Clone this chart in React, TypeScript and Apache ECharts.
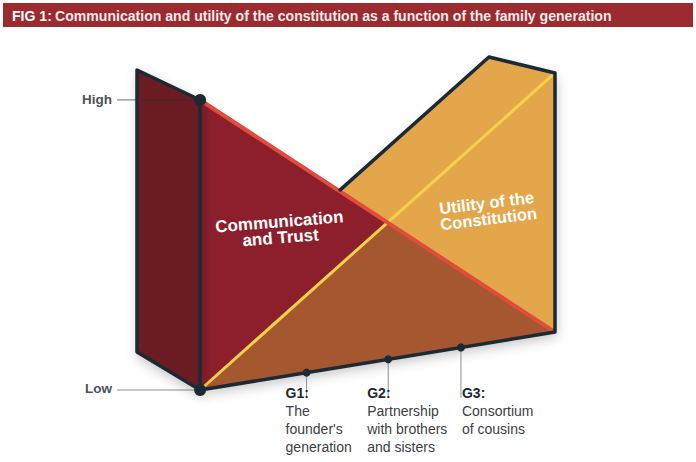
import React, { useEffect, useRef } from "react";
import * as echarts from "echarts";

// ---------- data ----------
const TITLE_PREFIX = "FIG 1:";
const TITLE_TEXT = "Communication and utility of the constitution as a function of the family generation";
const LEVEL_LABELS = ["Low", "High"];
const SERIES_NAMES = ["Communication\nand Trust", "Utility of the\nConstitution"];
// level (0 = Low, 1 = High) at the first and at the last generation
const COMMUNICATION = [1, 0];
const UTILITY = [0, 1];
const GENERATION_CODES = ["G1:", "G2:", "G3:"];
const GENERATION_NAMES = ["The\nfounder's\ngeneration", "Partnership\nwith brothers\nand sisters", "Consortium\nof cousins"];
// position of each generation along the front base (0 = left edge, 1 = right edge)
const GENERATION_POSITIONS = [0.3, 0.53, 0.735];

// ---------- geometry (diagram units on hidden 0-100 axes) ----------
const FRONT_X = [15.1, 100];
const BASE_Y = [0, 17.4];
const TOP_Y = [87.1, 95.2];
const DEPTH_LEFT_TOP = [-15.1, 9];
const DEPTH_LEFT_BOTTOM = [-15.1, 11.4];
const DEPTH_RIGHT_TOP = [-15.8, 4.8];
const SERIES_LABEL_POS = [[0.225, 0.52], [0.81, 0.5]];
const SERIES_LABEL_ROT = [0.08, 0.12];
const SERIES_LABEL_SIZE = [17, 16.5];
const GEN_LABEL_DX = [-21, -21, 1];

const C = {
  title: "#9b2b2f",
  leftFace: "#6b1a22",
  red: "#8d1f2c",
  brown: "#a5582f",
  orange: "#e3a64b",
  yellow: "#f3d24a",
  redLine: "#e14c3b",
  dark: "#1c2a35",
  grey: "#8b9197",
};

const lerp = (a: number, b: number, t: number) => a + (b - a) * t;
const pt = (t: number, v: number) => {
  const x = lerp(FRONT_X[0], FRONT_X[1], t);
  const yb = lerp(BASE_Y[0], BASE_Y[1], t);
  const yt = lerp(TOP_Y[0], TOP_Y[1], t);
  return [x, lerp(yb, yt, v)];
};
const add = (a: number[], b: number[]) => [a[0] + b[0], a[1] + b[1]];
const intersect = (a1: number[], a2: number[], b1: number[], b2: number[]) => {
  const d = (a1[0] - a2[0]) * (b1[1] - b2[1]) - (a1[1] - a2[1]) * (b1[0] - b2[0]);
  const p = a1[0] * a2[1] - a1[1] * a2[0];
  const q = b1[0] * b2[1] - b1[1] * b2[0];
  return [
    (p * (b1[0] - b2[0]) - (a1[0] - a2[0]) * q) / d,
    (p * (b1[1] - b2[1]) - (a1[1] - a2[1]) * q) / d,
  ];
};

const measure = (text: string, font: string) => {
  const ctx = document.createElement("canvas").getContext("2d");
  if (!ctx) return 600;
  ctx.font = font;
  return ctx.measureText(text).width;
};

export default function App() {
  const ref = useRef<HTMLDivElement>(null);
  useEffect(() => {
    document.body.style.margin = "0";
    if (!ref.current) return;
    const chart = echarts.init(ref.current, undefined, { renderer: "svg" });
    const FONT = "'Liberation Sans', Arial, sans-serif";
    const titleFont = `bold 15px ${FONT}`;
    const titleW = measure(`${TITLE_PREFIX} ${TITLE_TEXT}`, titleFont);
    const titleScale = 601 / titleW;

    const renderItem = (_params: any, api: any) => {
      const P = (d: number[]) => api.coord(d) as number[];
      const high = P(pt(0, COMMUNICATION[0]));
      const commEnd = P(pt(1, COMMUNICATION[1]));
      const low = P(pt(0, UTILITY[0]));
      const utilEnd = P(pt(1, UTILITY[1]));
      const rightBottom = P(pt(1, 0));
      const rightTop = P(pt(1, 1));
      const backTopLeft = P(add(pt(0, 1), DEPTH_LEFT_TOP));
      const backBottomLeft = P(add(pt(0, 0), DEPTH_LEFT_BOTTOM));
      const backTopRight = P(add(pt(1, 1), DEPTH_RIGHT_TOP));
      const backDir = [backTopRight[0] + (utilEnd[0] - low[0]), backTopRight[1] + (utilEnd[1] - low[1])];
      const ridge = intersect(high, commEnd, backTopRight, backDir);
      const cross = intersect(high, commEnd, low, utilEnd);

      const shadow = { shadowBlur: 12, shadowColor: "rgba(0,0,0,0.22)", shadowOffsetY: 5, shadowOffsetX: 2 };
      const children: any[] = [
        { type: "polygon", shape: { points: [low, ridge, backTopRight, rightTop, rightBottom] }, style: { fill: C.orange, ...shadow } },
        { type: "polygon", shape: { points: [high, low, cross] }, style: { fill: C.red } },
        { type: "polygon", shape: { points: [low, cross, rightBottom] }, style: { fill: C.brown } },
        { type: "line", shape: { x1: low[0], y1: low[1], x2: utilEnd[0], y2: utilEnd[1] }, style: { stroke: C.yellow, lineWidth: 3 } },
        { type: "line", shape: { x1: high[0], y1: high[1], x2: commEnd[0], y2: commEnd[1] }, style: { stroke: C.redLine, lineWidth: 4 } },
        { type: "polyline", shape: { points: [ridge, backTopRight, rightTop, rightBottom, low] }, style: { stroke: C.dark, lineWidth: 3.5, fill: null, lineJoin: "round" } },
        { type: "polygon", shape: { points: [backTopLeft, high, low, backBottomLeft] }, style: { fill: C.leftFace, stroke: C.dark, lineWidth: 3.5, lineJoin: "round", ...shadow } },
      ];

      // level labels
      [low, high].forEach((p, i) => {
        children.push({ type: "line", shape: { x1: p[0] - 83, y1: p[1], x2: p[0], y2: p[1] }, style: { stroke: "rgba(40,50,60,0.55)", lineWidth: 1.2 } });
        children.push({
          type: "text", x: p[0] - 88, y: p[1] - (i === 0 ? 2 : 0),
          style: { text: LEVEL_LABELS[i], fill: "#4a525a", fontFamily: FONT, fontSize: 13.5, fontWeight: "bold", align: "right", verticalAlign: "middle" },
        });
        children.push({ type: "circle", shape: { cx: p[0], cy: p[1], r: 6 }, style: { fill: C.dark } });
      });

      // generations
      GENERATION_POSITIONS.forEach((t, i) => {
        const g = P(pt(t, 0));
        children.push({ type: "line", shape: { x1: g[0], y1: g[1], x2: g[0], y2: 398 }, style: { stroke: C.grey, lineWidth: 1 } });
        children.push({ type: "circle", shape: { cx: g[0], cy: g[1], r: 4 }, style: { fill: C.dark } });
        children.push({
          type: "text", x: g[0] + GEN_LABEL_DX[i], y: 384,
          style: {
            text: `{c|${GENERATION_CODES[i]}}\n{d|${GENERATION_NAMES[i].split("\n").join("}\n{d|")}}`,
            align: "left", verticalAlign: "top",
            rich: {
              c: { fontFamily: FONT, fontSize: 14, fontWeight: "bold", fill: C.dark, lineHeight: 18 },
              d: { fontFamily: FONT, fontSize: 14, fill: "#3b4046", lineHeight: 18 },
            },
          },
        });
      });

      // series labels
      SERIES_NAMES.forEach((name, i) => {
        const p = P(pt(SERIES_LABEL_POS[i][0], SERIES_LABEL_POS[i][1]));
        children.push({
          type: "text", x: p[0], y: p[1], rotation: SERIES_LABEL_ROT[i],
          style: { text: name, fill: "#ffffff", fontFamily: FONT, fontSize: SERIES_LABEL_SIZE[i], fontWeight: "bold", lineHeight: 16, align: "center", verticalAlign: "middle" },
        });
      });

      return { type: "group", children };
    };

    chart.setOption({
      animation: false,
      grid: { left: 137, right: 141, top: 57, bottom: 72 },
      xAxis: { type: "value", min: 0, max: 100, show: false },
      yAxis: { type: "value", min: 0, max: 100, show: false },
      series: [{ type: "custom", renderItem, data: [[0, 0]], silent: true }],
      graphic: [
        { type: "rect", left: 3, top: 3, shape: { width: 690, height: 24 }, style: { fill: C.title } },
        {
          type: "text", x: 12, y: 15.5, scaleX: titleScale,
          style: {
            text: `{a|${TITLE_PREFIX}} {b|${TITLE_TEXT}}`, verticalAlign: "middle", align: "left",
            rich: {
              a: { fontFamily: FONT, fontSize: 15, fontWeight: "bold", fill: "#ffffff" },
              b: { fontFamily: FONT, fontSize: 15, fontWeight: "bold", fill: "#f4eaea" },
            },
          },
        },
      ],
    });
    return () => chart.dispose();
  }, []);
  return <div ref={ref} style={{ width: 696, height: 462 }} />;
}
